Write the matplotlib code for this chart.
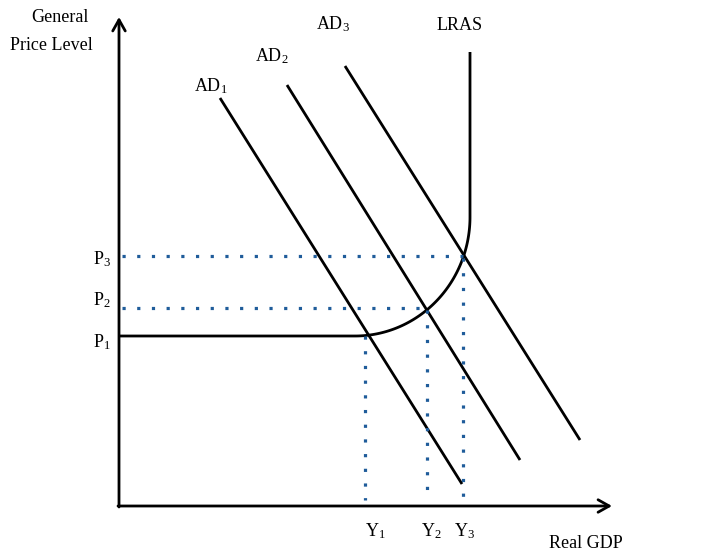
import numpy as np
import matplotlib
matplotlib.use("Agg")
import matplotlib.pyplot as plt

plt.rcParams['font.family'] = ['Liberation Serif', 'DejaVu Serif']
plt.rcParams['mathtext.fontset'] = 'custom'
plt.rcParams['mathtext.rm'] = 'Liberation Serif'
plt.rcParams['mathtext.it'] = 'Liberation Serif'

# Coordinates in a canvas-like space (x right, y down), W=711, H=555
origin = (119, 506)
y_axis_top = 17
x_axis_right = 612

# AD curves: start and end points
ad_names = ["AD_1", "AD_2", "AD_3"]
ad_x = [[220, 462], [287, 520], [345, 580]]
ad_y = [[98, 484], [85, 460], [66, 440]]
ad_label_xy = [(211, 86), (272, 56), (333, 24)]

# LRAS: flat segment, elliptical bend, vertical segment
lras_flat_x = [119, 355]
lras_level = 336
lras_vertical_x = 470
lras_bend_y = 217
lras_top = 52

# Equilibria
eq_x = [365, 427, 463]
eq_y = [334, 308, 256]
p_labels = ["P_1", "P_2", "P_3"]
p_label_y = [342, 300, 259]
y_labels = ["Y_1", "Y_2", "Y_3"]
y_label_x = [375, 431, 465]

fig = plt.figure(figsize=(7.11, 5.55), dpi=100)
ax = fig.add_axes([0, 0, 1, 1])
ax.set_xlim(0, 711)
ax.set_ylim(555, 0)
ax.axis('off')

lw = 2.0
# axes with arrows
ax.annotate("", xy=(origin[0], y_axis_top), xytext=(origin[0], origin[1] + 1),
            arrowprops=dict(arrowstyle="->,head_length=0.8,head_width=0.45", lw=lw, color='black',
                            shrinkA=0, shrinkB=0))
ax.annotate("", xy=(x_axis_right, origin[1]), xytext=(origin[0] - 1, origin[1]),
            arrowprops=dict(arrowstyle="->,head_length=0.8,head_width=0.45", lw=lw, color='black',
                            shrinkA=0, shrinkB=0))

# LRAS
cx = lras_flat_x[1]
cy = lras_bend_y
a = lras_vertical_x - cx
b = lras_level - lras_bend_y
t = np.linspace(np.pi / 2, 0, 100)
bx = cx + a * np.cos(t)
by = cy + b * np.sin(t)
lx = np.concatenate([[lras_flat_x[0]], bx, [lras_vertical_x]])
ly = np.concatenate([[lras_level], by, [lras_top]])
ax.plot(lx, ly, color='black', lw=lw, solid_capstyle='butt')

# AD lines
for xs, ys in zip(ad_x, ad_y):
    ax.plot(xs, ys, color='black', lw=lw, solid_capstyle='butt')

dot_color = '#1f5c9a'
dot_kw = dict(color=dot_color, lw=2.3, linestyle=(0, (1, 3.6)))
# horizontal dotted lines for P2, P3
for x, y in zip(eq_x[1:], eq_y[1:]):
    ax.plot([origin[0] + 3, x], [y, y], **dot_kw)
# vertical dotted lines
for x, y in zip(eq_x, eq_y):
    ax.plot([x, x], [y + 2, origin[1] - 6], **dot_kw)

fs = 13
ax.text(89, 17, "General", ha='right', va='center', fontsize=fs)
ax.text(93, 46, "Price Level", ha='right', va='center', fontsize=fs)
for lab, y in zip(p_labels, p_label_y):
    ax.text(93, y, r"$\mathregular{%s}$" % lab, ha='left', va='center', fontsize=fs)
for lab, x in zip(y_labels, y_label_x):
    ax.text(x, 531, r"$\mathregular{%s}$" % lab, ha='center', va='center', fontsize=fs)
ax.text(586, 543, "Real GDP", ha='center', va='center', fontsize=fs)
for lab, (x, y) in zip(ad_names, ad_label_xy):
    ax.text(x, y, r"$\mathregular{%s}$" % lab, ha='center', va='center', fontsize=fs)
ax.text(460, 25, "LRAS", ha='center', va='center', fontsize=fs)

fig.savefig("out.png", dpi=100)
